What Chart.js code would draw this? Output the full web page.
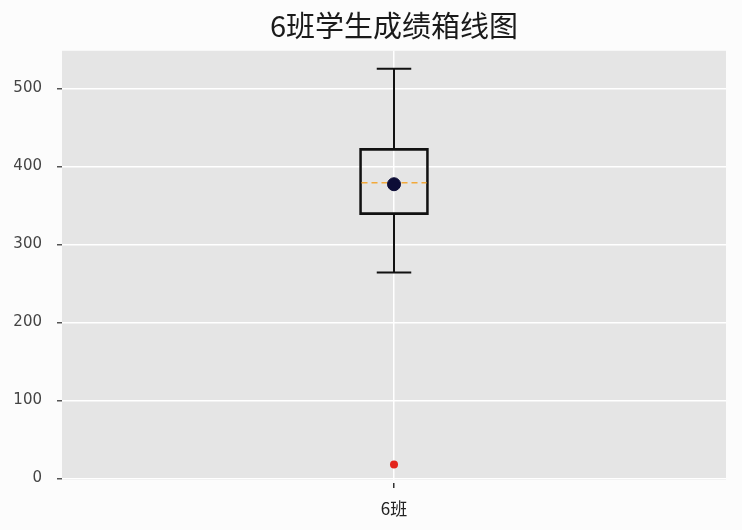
<!DOCTYPE html>
<html lang="zh">
<head>
    <meta charset="UTF-8">
    <title>6班学生成绩箱线图</title>
    <script src="https://cdn.jsdelivr.net/npm/chart.js"></script>
    <style>
        html, body {
            margin: 0;
            padding: 0;
            background-color: #fcfcfc;
        }

        .chart-container {
            width: 742px;
            height: 530px;
        }
    </style>
</head>
<body>

    <div class="chart-container">
        <canvas id="boxChart"></canvas>
    </div>

    <script>
        // Box plot statistics
        const categories = ['6班'];
        const q1 = [338];
        const q3 = [423];
        const medians = [379];
        const means = [377];
        const whiskerLow = [264];
        const whiskerHigh = [525];
        const outliers = [18];
        const yTicks = [0, 100, 200, 300, 400, 500];

        // Grey panel behind the plot, like matplotlib's ggplot style
        const panelBackground = {
            id: 'panelBackground',
            beforeDraw(chart) {
                const { ctx, chartArea } = chart;
                ctx.save();
                ctx.fillStyle = '#e5e5e5';
                ctx.fillRect(chartArea.left, chartArea.top,
                    chartArea.right - chartArea.left, chartArea.bottom - chartArea.top);
                ctx.restore();
            }
        };

        // Whiskers, caps and median drawn right after the box dataset
        const boxExtras = {
            id: 'boxExtras',
            afterDatasetDraw(chart, args) {
                if (args.index !== 0) return;
                const { ctx } = chart;
                const yScale = chart.scales.y;
                args.meta.data.forEach((bar, i) => {
                    const cx = bar.x;
                    const half = bar.width / 2;
                    const yQ1 = yScale.getPixelForValue(q1[i]);
                    const yQ3 = yScale.getPixelForValue(q3[i]);
                    const yLo = yScale.getPixelForValue(whiskerLow[i]);
                    const yHi = yScale.getPixelForValue(whiskerHigh[i]);
                    const yMed = yScale.getPixelForValue(medians[i]);

                    ctx.save();
                    ctx.strokeStyle = '#111111';
                    ctx.lineWidth = 2;
                    ctx.beginPath();
                    ctx.moveTo(cx, yQ3);
                    ctx.lineTo(cx, yHi);
                    ctx.moveTo(cx - half / 2, yHi);
                    ctx.lineTo(cx + half / 2, yHi);
                    ctx.moveTo(cx, yQ1);
                    ctx.lineTo(cx, yLo);
                    ctx.moveTo(cx - half / 2, yLo);
                    ctx.lineTo(cx + half / 2, yLo);
                    ctx.stroke();

                    ctx.strokeStyle = '#f2a93b';
                    ctx.lineWidth = 1.5;
                    ctx.setLineDash([6, 4]);
                    ctx.beginPath();
                    ctx.moveTo(cx - half + 2, yMed);
                    ctx.lineTo(cx + half - 2, yMed);
                    ctx.stroke();
                    ctx.restore();
                });
            }
        };

        const ctx = document.getElementById('boxChart').getContext('2d');
        new Chart(ctx, {
            data: {
                labels: categories,
                datasets: [
                    {
                        type: 'bar',
                        label: 'box',
                        data: q1.map((v, i) => [v, q3[i]]),
                        backgroundColor: 'rgba(0,0,0,0)',
                        borderColor: '#111111',
                        borderWidth: 2,
                        borderSkipped: false,
                        barThickness: 69,
                        order: 3
                    },
                    {
                        type: 'line',
                        label: 'mean',
                        data: means,
                        showLine: false,
                        pointStyle: 'circle',
                        pointRadius: 6.5,
                        pointBackgroundColor: '#0c0c36',
                        pointBorderColor: '#0c0c36',
                        pointBorderWidth: 1,
                        order: 1
                    },
                    {
                        type: 'line',
                        label: 'outliers',
                        data: outliers,
                        showLine: false,
                        pointStyle: 'circle',
                        pointRadius: 4,
                        pointBackgroundColor: '#e3241c',
                        pointBorderColor: '#e3241c',
                        pointBorderWidth: 0,
                        order: 2
                    }
                ]
            },
            options: {
                responsive: true,
                maintainAspectRatio: false,
                animation: false,
                layout: {
                    padding: { left: 0, right: 16, top: 0, bottom: 0 }
                },
                plugins: {
                    legend: { display: false },
                    tooltip: { enabled: false },
                    title: {
                        display: true,
                        text: '6班学生成绩箱线图',
                        fullSize: false,
                        color: '#1a1a1a',
                        font: { family: '"Noto Sans CJK SC", sans-serif', size: 29, weight: 'normal' },
                        padding: { top: 9, bottom: 7 }
                    }
                },
                scales: {
                    x: {
                        offset: true,
                        border: { display: false },
                        grid: {
                            offset: false,
                            color: '#ffffff',
                            lineWidth: 1.5,
                            tickColor: '#333333',
                            tickLength: 8,
                            tickBorderDash: [5, 3],
                            tickBorderDashOffset: 5
                        },
                        ticks: {
                            color: '#222222',
                            padding: 10,
                            font: { family: '"Noto Sans CJK SC", sans-serif', size: 17 }
                        },
                        afterFit(scale) {
                            scale.height = 50;
                        }
                    },
                    y: {
                        min: -2,
                        max: 548,
                        border: { display: false },
                        grid: {
                            color: '#ffffff',
                            lineWidth: 1.5,
                            tickColor: '#555555',
                            tickLength: 9,
                            tickBorderDash: [5, 4],
                            tickBorderDashOffset: 5
                        },
                        ticks: {
                            color: '#444444',
                            padding: 11,
                            font: { family: '"DejaVu Sans", sans-serif', size: 15 }
                        },
                        afterBuildTicks(scale) {
                            scale.ticks = yTicks.map(v => ({ value: v }));
                        },
                        afterFit(scale) {
                            scale.width = 62;
                        }
                    }
                }
            },
            plugins: [panelBackground, boxExtras]
        });
    </script>

</body>
</html>
